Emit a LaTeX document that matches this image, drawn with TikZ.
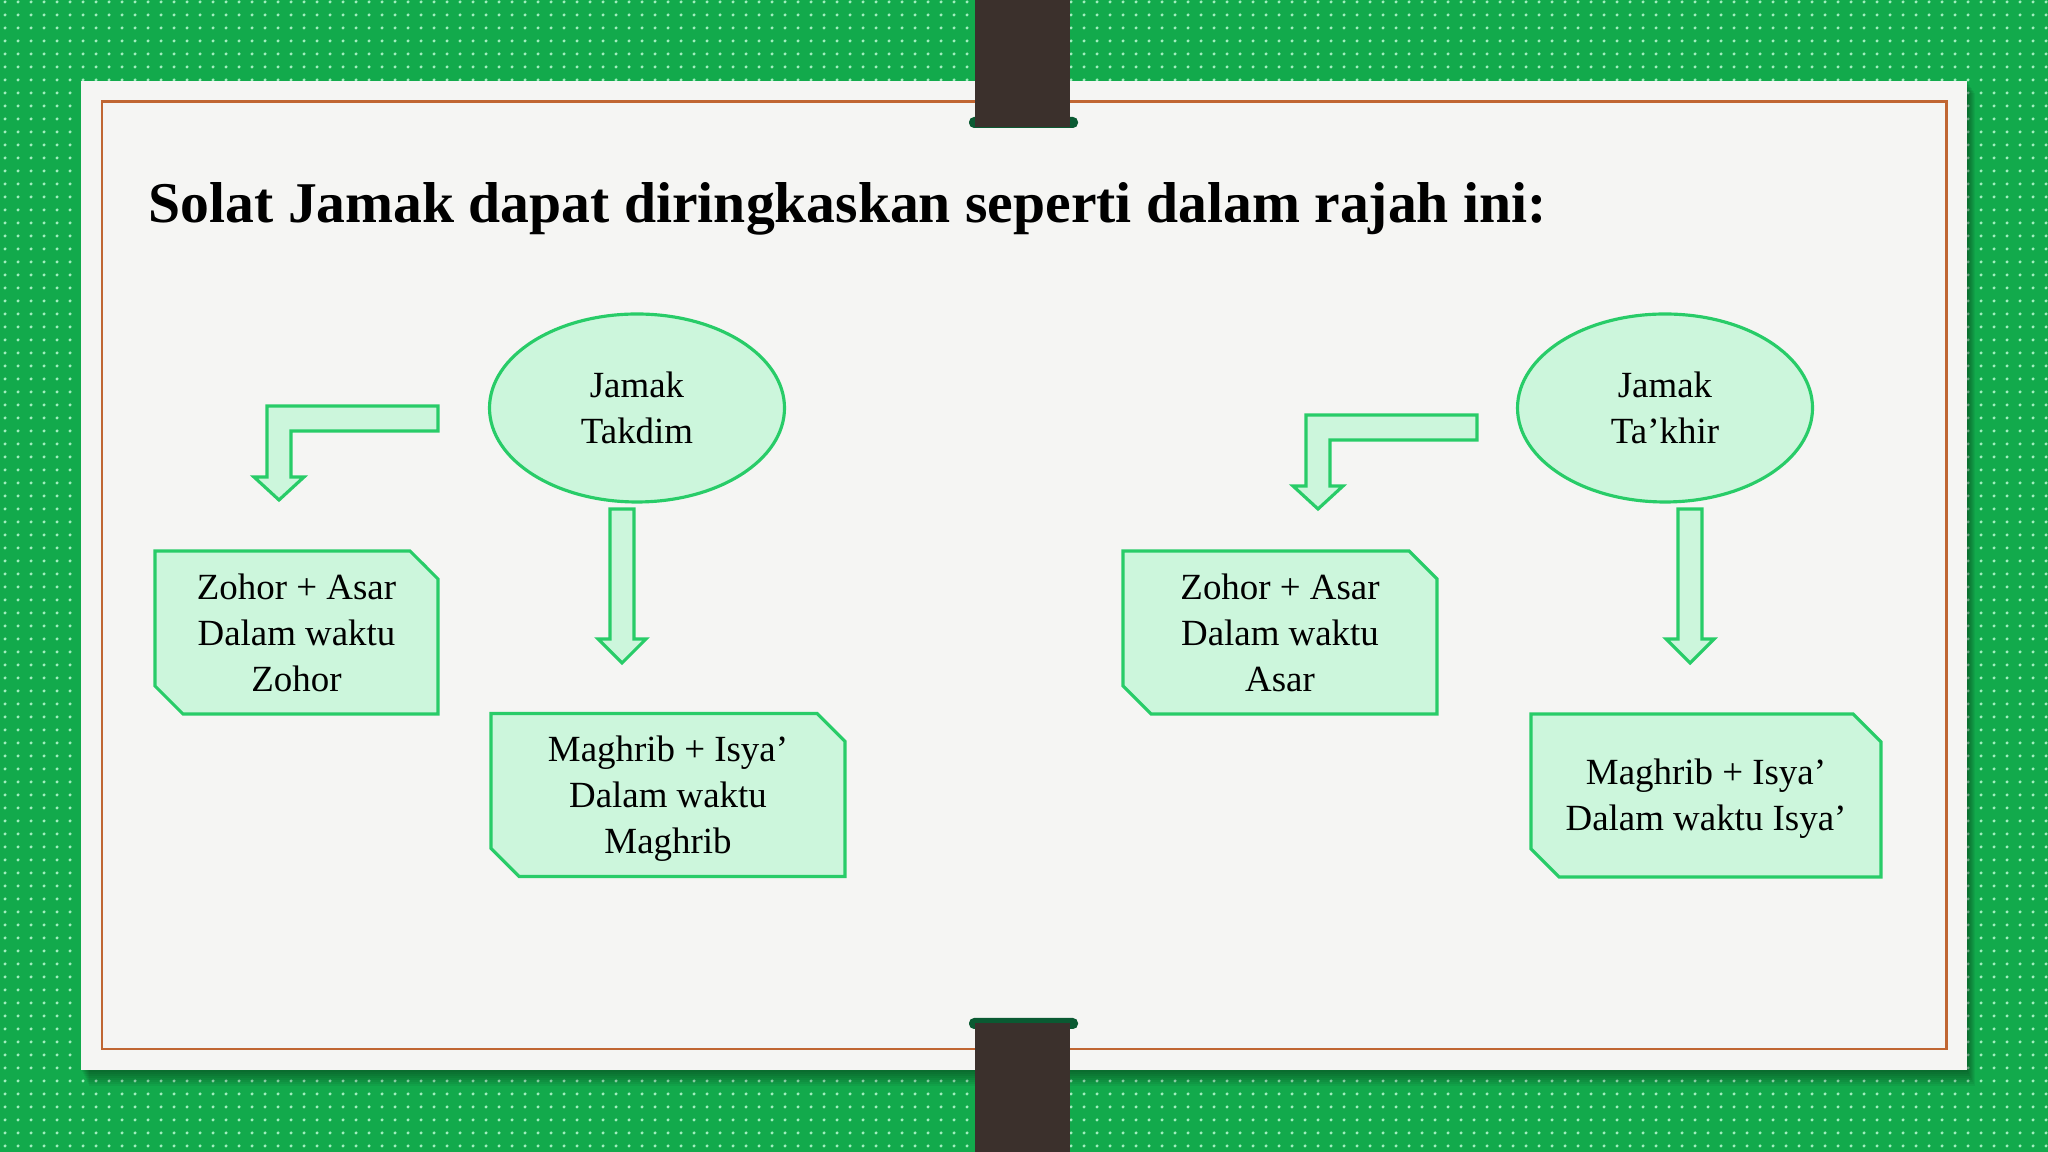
\documentclass[tikz,border=0pt]{standalone}
\usepackage{fontspec}
\setmainfont{Liberation Serif}
\usetikzlibrary{positioning, shapes.geometric, shapes.misc, patterns.meta}

\definecolor{baize}{RGB}{18,170,76}
\definecolor{baizedot}{RGB}{160,238,190}
\definecolor{paper}{RGB}{245,245,243}
\definecolor{rust}{RGB}{192,102,50}
\definecolor{strap}{RGB}{59,48,44}
\definecolor{strapcap}{RGB}{10,90,50}
\definecolor{mint}{RGB}{204,246,220}
\definecolor{leaf}{RGB}{40,204,104}

\tikzdeclarepattern{
  name=baize dots,
  type=uncolored,
  bounding box={(0mm,0mm) and (1.3mm,1.3mm)},
  tile size={(1.3mm,1.3mm)},
  code={\fill (0.65mm,0.65mm) circle (0.18mm);}
}

% block arrows, in picture units (x of centre, y of top)
\newcommand{\downblock}[2]{%
  \filldraw[block arrow] (#1-12,#2) -- (#1+12,#2) -- (#1+12,#2+130) -- (#1+24,#2+130)
    -- (#1,#2+154) -- (#1-24,#2+130) -- (#1-12,#2+130) -- cycle;}
% bent arrow: x of shaft, y of top, x of right end
\newcommand{\bentblock}[3]{%
  \filldraw[block arrow] (#1,#2) -- (#3,#2) -- (#3,#2+25) -- (#1+24,#2+25) -- (#1+24,#2+71)
    -- (#1+37,#2+71) -- (#1+12,#2+94) -- (#1-13,#2+71) -- (#1,#2+71) -- cycle;}

\begin{document}
\begin{tikzpicture}[
  x=0.1mm, y=-0.1mm,
  every node/.style={text=black},
  jamak ellipse/.style={
    ellipse,
    draw=leaf,
    fill=mint,
    line width=0.9pt,
    minimum width=29.5mm,
    minimum height=18.8mm,
    inner sep=0pt,
    align=center,
    font=\fontsize{10.5}{13.1}\selectfont
  },
  waktu box/.style={
    chamfered rectangle,
    chamfered rectangle corners={north east, south west},
    chamfered rectangle xsep=1.4mm,
    chamfered rectangle ysep=1.4mm,
    draw=leaf,
    fill=mint,
    line width=0.9pt,
    minimum height=16.3mm,
    inner sep=0pt,
    align=center,
    font=\fontsize{10.5}{13.1}\selectfont
  },
  block arrow/.style={
    draw=leaf,
    fill=mint,
    line width=0.9pt,
    line join=miter
  }
]
\useasboundingbox (0,0) rectangle (2048,1152);

% backdrop
\fill[baize] (0,0) rectangle (2048,1152);
\fill[pattern=baize dots, pattern color=baizedot] (0,0) rectangle (2048,1152);
\foreach \s in {1,...,8}
  \fill[black, opacity=0.05] (81+\s,81+\s*1.5) rectangle (1967+\s,1070+\s*2);
\fill[paper] (81,81) rectangle (1967,1070);
\draw[rust, line width=0.85pt] (102,102) rectangle (1946,1049);

% straps
\fill[strapcap, rounded corners=0.5mm] (969,117) rectangle (1078,128);
\fill[strap] (975,0) rectangle (1070,127);
\fill[strapcap, rounded corners=0.5mm] (969,1018) rectangle (1078,1029);
\fill[strap] (975,1023) rectangle (1070,1152);

\node[anchor=base west, inner sep=0pt, font=\bfseries\fontsize{16.4}{19}\selectfont] (title) at (148,223)
  {Solat Jamak dapat diringkaskan seperti dalam rajah ini:};

\node[jamak ellipse] (takdim) at (637,408) {Jamak\\Takdim};
\node[jamak ellipse] (takhir) at (1665,408) {Jamak\\Ta’khir};

\node[waktu box, minimum width=28.3mm] (zohorzohor) at (296.5,632.5) {Zohor + Asar\\Dalam waktu\\Zohor};
\node[waktu box, minimum width=35.4mm, text depth=0pt] (maghribmaghrib) at (668,795) {Maghrib + Isya’\\Dalam waktu\\Maghrib};
\node[waktu box, minimum width=31.4mm] (zohorasar) at (1280,632.5) {Zohor + Asar\\Dalam waktu\\Asar};
\node[waktu box, minimum width=35mm, text depth=0.5pt] (maghribisya) at (1706,795.5) {Maghrib + Isya’\\Dalam waktu Isya’};

\bentblock{267}{406}{438}
\downblock{622}{509}
\bentblock{1306}{415}{1477}
\downblock{1690}{509}

\end{tikzpicture}
\end{document}
